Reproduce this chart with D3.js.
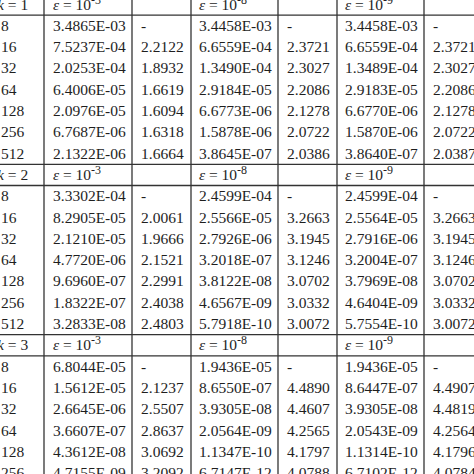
<!DOCTYPE html>
<html><head><meta charset="utf-8">
<script src="https://cdn.jsdelivr.net/npm/d3@7"></script>
<style>body{margin:0;background:#fff}svg{display:block}</style>
</head><body>
<svg width="474" height="474"></svg>
<script>
// table values
var nValues = ["8", "16", "32", "64", "128", "256", "512"];
var kLabels = ["1", "2", "3"];
var epsExp = ["-3", "-8", "-9"];

var errK1 = [
  ["3.4865E-03", "7.5237E-04", "2.0253E-04", "6.4006E-05", "2.0976E-05", "6.7687E-06", "2.1322E-06"],
  ["3.4458E-03", "6.6559E-04", "1.3490E-04", "2.9184E-05", "6.6773E-06", "1.5878E-06", "3.8645E-07"],
  ["3.4458E-03", "6.6559E-04", "1.3489E-04", "2.9183E-05", "6.6770E-06", "1.5870E-06", "3.8640E-07"]];
var rateK1 = [
  ["-", "2.2122", "1.8932", "1.6619", "1.6094", "1.6318", "1.6664"],
  ["-", "2.3721", "2.3027", "2.2086", "2.1278", "2.0722", "2.0386"],
  ["-", "2.3721", "2.3027", "2.2086", "2.1278", "2.0722", "2.0387"]];
var errK2 = [
  ["3.3302E-04", "8.2905E-05", "2.1210E-05", "4.7720E-06", "9.6960E-07", "1.8322E-07", "3.2833E-08"],
  ["2.4599E-04", "2.5566E-05", "2.7926E-06", "3.2018E-07", "3.8122E-08", "4.6567E-09", "5.7918E-10"],
  ["2.4599E-04", "2.5564E-05", "2.7916E-06", "3.2004E-07", "3.7969E-08", "4.6404E-09", "5.7554E-10"]];
var rateK2 = [
  ["-", "2.0061", "1.9666", "2.1521", "2.2991", "2.4038", "2.4803"],
  ["-", "3.2663", "3.1945", "3.1246", "3.0702", "3.0332", "3.0072"],
  ["-", "3.2663", "3.1945", "3.1246", "3.0702", "3.0332", "3.0072"]];
var errK3 = [
  ["6.8044E-05", "1.5612E-05", "2.6645E-06", "3.6607E-07", "4.3612E-08", "4.7155E-09"],
  ["1.9436E-05", "8.6550E-07", "3.9305E-08", "2.0564E-09", "1.1347E-10", "6.7147E-12"],
  ["1.9436E-05", "8.6447E-07", "3.9305E-08", "2.0543E-09", "1.1314E-10", "6.7102E-12"]];
var rateK3 = [
  ["-", "2.1237", "2.5507", "2.8637", "3.0692", "3.2092"],
  ["-", "4.4890", "4.4607", "4.2565", "4.1797", "4.0788"],
  ["-", "4.4907", "4.4819", "4.2564", "4.1796", "4.0784"]];

var errs = [errK1, errK2, errK3], rates = [rateK1, rateK2, rateK3];

var svg = d3.select("svg");
var font = "Liberation Serif";

var y = d3.scaleLinear().domain([0, 1]).range([4.5, 25.8]); // row index -> center
var colText = [1, 53, 141, 199, 287, 345, 433];
var vLines = [44, 132, 191, 278, 337, 424];

// build rows
var rows = [];
kLabels.forEach(function (k, b) {
  rows.push({header: true, k: k});
  errs[b][0].forEach(function (_, i) {
    var cells = [nValues[i]];
    for (var e = 0; e < 3; e++) { cells.push(errs[b][e][i]); cells.push(rates[b][e][i]); }
    rows.push({header: false, cells: cells});
  });
});

var g = svg.append("g").attr("font-family", font).attr("font-size", 15.5).attr("fill", "#1e1e1e");

rows.forEach(function (r, i) {
  var cy = y(i) + 5;
  if (r.header) {
    var t = g.append("text").attr("x", -3).attr("y", cy);
    t.append("tspan").attr("font-style", "italic").text("k");
    t.append("tspan").text(" = " + r.k);
    epsExp.forEach(function (ex, e) {
      var tt = g.append("text").attr("x", colText[1 + 2 * e]).attr("y", cy);
      tt.append("tspan").attr("font-style", "italic").text("ε");
      tt.append("tspan").text(" = 10");
      tt.append("tspan").attr("font-size", 12).attr("dy", -6).text(ex);
    });
    [y(i) - 10.6, y(i) + 10.6].forEach(function (ly) {
      svg.append("line").attr("x1", 0).attr("x2", 474).attr("y1", ly).attr("y2", ly)
        .attr("stroke", "#333").attr("stroke-width", 1.3);
    });
  } else {
    r.cells.forEach(function (c, j) {
      g.append("text").attr("x", colText[j]).attr("y", cy).text(c);
    });
  }
});

svg.selectAll("line.v").data(vLines).enter().append("line").attr("class", "v")
  .attr("x1", function (d) { return d; }).attr("x2", function (d) { return d; })
  .attr("y1", 0).attr("y2", 474).attr("stroke", "#333").attr("stroke-width", 1.3);
</script>
</body></html>
